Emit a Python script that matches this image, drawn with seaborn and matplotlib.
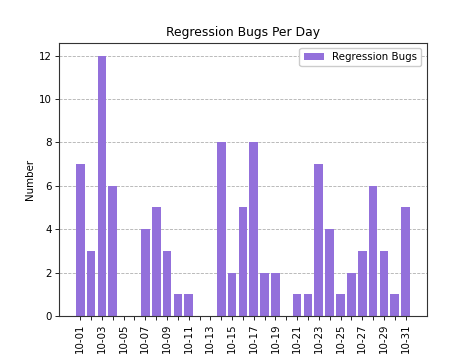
import numpy as np
import pandas as pd
import matplotlib
matplotlib.use("Agg")
import matplotlib.pyplot as plt
import seaborn as sns

# -------------------- DATA --------------------
days = [f"10-{d:02d}" for d in range(1, 32)]
bugs = [7, 3, 12, 6, 0, 0, 4, 5, 3, 1, 1, 0, 0, 8, 2, 5, 8, 2, 2, 0,
        1, 1, 7, 4, 1, 2, 3, 6, 3, 1, 5]
tick_labels = [d if i % 2 == 0 else "" for i, d in enumerate(days)]

df = pd.DataFrame({"day": days, "bugs": bugs})

# -------------------- PLOT --------------------
sns.set_style("white", {"xtick.bottom": True, "ytick.left": True,
                        "text.color": "black", "axes.labelcolor": "black",
                        "xtick.color": "black", "ytick.color": "black"})
plt.rcParams["font.family"] = ["DejaVu Sans"]

fig, ax = plt.subplots(figsize=(4.74, 3.55), dpi=100)
sns.barplot(data=df, x="day", y="bugs", color="mediumpurple", saturation=1,
            width=0.8, linewidth=0, label="Regression Bugs", ax=ax)

# ticks on every day, labels on every other day
ax.set_xticks(range(len(days)))
ax.set_xticklabels(tick_labels, rotation=90, fontsize=7.4)
ax.tick_params(axis="x", length=2.6, width=0.6, bottom=True, pad=2.6)
ax.tick_params(axis="y", labelsize=7.4, length=2.6, width=0.6, left=True, pad=2.6)
ax.set_xlim(-1.94, 31.94)
ax.set_ylim(0, 12.6)
ax.yaxis.grid(True, linestyle="--", color="#b0b0b0", linewidth=0.6)
ax.set_axisbelow(True)
for s in ax.spines.values():
    s.set_color("#333333")
    s.set_linewidth(0.8)

ax.set_title("Regression Bugs Per Day", fontsize=8.9, pad=4.5)
ax.set_xlabel("")
ax.set_ylabel("Number", fontsize=7.4, labelpad=3)
ax.legend(loc="upper right", fontsize=7.4, framealpha=1)

fig.subplots_adjust(left=0.125, right=0.9, top=0.88, bottom=0.11)
plt.savefig("out.png", dpi=100)
plt.close()
